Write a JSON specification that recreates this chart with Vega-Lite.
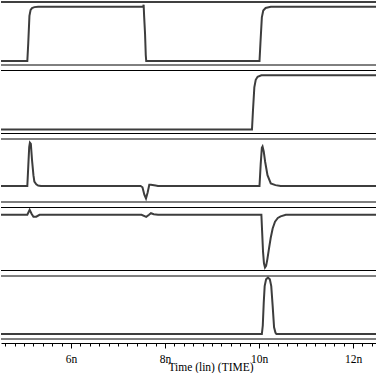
{
  "$schema": "https://vega.github.io/schema/vega-lite/v6.json",
  "padding": {"left": 0, "right": 0, "top": 1, "bottom": 0},
  "background": "white",
  "spacing": 5.5,
  "bounds": "flush",
  "config": {"view": {"stroke": null}},
  "datasets": {
    "p1": [{"t":4.5,"v":0},{"t":5.07,"v":0},{"t":5.09,"v":0.6},{"t":5.115,"v":1.5},{"t":5.14,"v":1.7},{"t":5.17,"v":1.76},{"t":5.22,"v":1.79},{"t":5.3,"v":1.8},{"t":7.535,"v":1.8},{"t":7.545,"v":1.87},{"t":7.555,"v":1.5},{"t":7.575,"v":0.9},{"t":7.59,"v":0.2},{"t":7.6,"v":0},{"t":10.01,"v":0},{"t":10.03,"v":0.6},{"t":10.06,"v":1.45},{"t":10.09,"v":1.68},{"t":10.14,"v":1.76},{"t":10.25,"v":1.8},{"t":12.55,"v":1.8}],
    "p2": [{"t":4.5,"v":0},{"t":9.85,"v":0},{"t":9.87,"v":0.6},{"t":9.9,"v":1.4},{"t":9.93,"v":1.65},{"t":9.97,"v":1.75},{"t":10.05,"v":1.8},{"t":12.55,"v":1.8}],
    "p3": [{"t":4.5,"v":0},{"t":5.07,"v":0},{"t":5.09,"v":0.45},{"t":5.11,"v":0.9},{"t":5.125,"v":1.0},{"t":5.145,"v":0.97},{"t":5.17,"v":0.6},{"t":5.2,"v":0.25},{"t":5.22,"v":0.1},{"t":5.26,"v":0.04},{"t":5.3,"v":0.01},{"t":5.36,"v":0},{"t":7.48,"v":0},{"t":7.52,"v":-0.03},{"t":7.56,"v":-0.2},{"t":7.595,"v":-0.29},{"t":7.63,"v":-0.15},{"t":7.665,"v":0.03},{"t":7.7,"v":0.03},{"t":7.8,"v":0.01},{"t":7.85,"v":0},{"t":10.01,"v":0},{"t":10.035,"v":0.5},{"t":10.06,"v":0.88},{"t":10.075,"v":0.91},{"t":10.1,"v":0.8},{"t":10.13,"v":0.56},{"t":10.18,"v":0.25},{"t":10.25,"v":0.06},{"t":10.35,"v":0.02},{"t":10.46,"v":0},{"t":12.55,"v":0}],
    "p4": [{"t":4.5,"v":0},{"t":5.07,"v":0},{"t":5.12,"v":0.095},{"t":5.16,"v":0.02},{"t":5.2,"v":-0.038},{"t":5.26,"v":-0.035},{"t":5.33,"v":0},{"t":7.5,"v":0},{"t":7.6,"v":-0.04},{"t":7.66,"v":0},{"t":7.7,"v":0.03},{"t":7.76,"v":0.01},{"t":7.85,"v":0},{"t":10.05,"v":0},{"t":10.065,"v":-0.3},{"t":10.085,"v":-0.7},{"t":10.105,"v":-0.92},{"t":10.127,"v":-1.0},{"t":10.15,"v":-0.97},{"t":10.176,"v":-0.85},{"t":10.21,"v":-0.65},{"t":10.248,"v":-0.44},{"t":10.29,"v":-0.26},{"t":10.34,"v":-0.13},{"t":10.4,"v":-0.06},{"t":10.46,"v":-0.03},{"t":10.57,"v":0},{"t":12.55,"v":0}],
    "p5": [{"t":4.5,"v":0},{"t":10.06,"v":0},{"t":10.08,"v":0.15},{"t":10.1,"v":0.55},{"t":10.12,"v":0.85},{"t":10.15,"v":0.97},{"t":10.19,"v":1.0},{"t":10.23,"v":0.97},{"t":10.26,"v":0.85},{"t":10.29,"v":0.5},{"t":10.32,"v":0.12},{"t":10.35,"v":0.02},{"t":10.37,"v":0},{"t":12.55,"v":0}],
    "one": [{}]
  },
  "vconcat": [
    {
      "width": 376, "height": 63,
      "layer": [
        {"data": {"name": "one"}, "mark": {"type": "rule", "color": "black", "strokeWidth": 1.5}, "encoding": {"y": {"datum": 1.96, "type": "quantitative", "scale": {"domain": [-0.13, 1.96], "nice": false, "zero": false}, "axis": null}}},
        {"data": {"name": "one"}, "mark": {"type": "rule", "color": "black", "strokeWidth": 1}, "encoding": {"y": {"datum": -0.13, "type": "quantitative"}}},
        {"data": {"name": "p1"}, "mark": {"type": "line", "color": "#3d3d3d", "strokeWidth": 2, "clip": true}, "encoding": {"x": {"field": "t", "type": "quantitative", "scale": {"domain": [4.51, 12.51], "nice": false, "zero": false}, "axis": null}, "y": {"field": "v", "type": "quantitative"}}}
      ]
    },
    {
      "width": 376, "height": 63,
      "layer": [
        {"data": {"name": "one"}, "mark": {"type": "rule", "color": "black", "strokeWidth": 1}, "encoding": {"y": {"datum": 1.96, "type": "quantitative", "scale": {"domain": [-0.13, 1.96], "nice": false, "zero": false}, "axis": null}}},
        {"data": {"name": "one"}, "mark": {"type": "rule", "color": "black", "strokeWidth": 1}, "encoding": {"y": {"datum": -0.13, "type": "quantitative"}}},
        {"data": {"name": "p2"}, "mark": {"type": "line", "color": "#3d3d3d", "strokeWidth": 2, "clip": true}, "encoding": {"x": {"field": "t", "type": "quantitative", "scale": {"domain": [4.51, 12.51], "nice": false, "zero": false}, "axis": null}, "y": {"field": "v", "type": "quantitative"}}}
      ]
    },
    {
      "width": 376, "height": 63,
      "layer": [
        {"data": {"name": "one"}, "mark": {"type": "rule", "color": "black", "strokeWidth": 1}, "encoding": {"y": {"datum": 1.085, "type": "quantitative", "scale": {"domain": [-0.37, 1.085], "nice": false, "zero": false}, "axis": null}}},
        {"data": {"name": "one"}, "mark": {"type": "rule", "color": "black", "strokeWidth": 1}, "encoding": {"y": {"datum": -0.37, "type": "quantitative"}}},
        {"data": {"name": "p3"}, "mark": {"type": "line", "color": "#3d3d3d", "strokeWidth": 2, "clip": true}, "encoding": {"x": {"field": "t", "type": "quantitative", "scale": {"domain": [4.51, 12.51], "nice": false, "zero": false}, "axis": null}, "y": {"field": "v", "type": "quantitative"}}}
      ]
    },
    {
      "width": 376, "height": 63,
      "layer": [
        {"data": {"name": "one"}, "mark": {"type": "rule", "color": "black", "strokeWidth": 1}, "encoding": {"y": {"datum": 0.1385, "type": "quantitative", "scale": {"domain": [-1.057, 0.1385], "nice": false, "zero": false}, "axis": null}}},
        {"data": {"name": "one"}, "mark": {"type": "rule", "color": "black", "strokeWidth": 1}, "encoding": {"y": {"datum": -1.057, "type": "quantitative"}}},
        {"data": {"name": "p4"}, "mark": {"type": "line", "color": "#3d3d3d", "strokeWidth": 2, "clip": true}, "encoding": {"x": {"field": "t", "type": "quantitative", "scale": {"domain": [4.51, 12.51], "nice": false, "zero": false}, "axis": null}, "y": {"field": "v", "type": "quantitative"}}}
      ]
    },
    {
      "width": 376, "height": 63,
      "layer": [
        {"data": {"name": "one"}, "mark": {"type": "rule", "color": "black", "strokeWidth": 1}, "encoding": {"y": {"datum": 1.03, "type": "quantitative", "scale": {"domain": [-0.089, 1.03], "nice": false, "zero": false}, "axis": null}}},
        {"data": {"name": "one"}, "mark": {"type": "rule", "color": "black", "strokeWidth": 1}, "encoding": {"y": {"datum": -0.089, "type": "quantitative"}}},
        {"data": {"name": "p5"}, "mark": {"type": "line", "color": "#3d3d3d", "strokeWidth": 2, "clip": true}, "encoding": {
          "x": {"field": "t", "type": "quantitative", "scale": {"domain": [4.51, 12.51], "nice": false, "zero": false},
            "axis": {
              "orient": "bottom", "offset": 4, "grid": false,
              "values": [4.6,4.8,5,5.2,5.4,5.6,5.8,6,6.2,6.4,6.6,6.8,7,7.2,7.4,7.6,7.8,8,8.2,8.4,8.6,8.8,9,9.2,9.4,9.6,9.8,10,10.2,10.4,10.6,10.8,11,11.2,11.4,11.6,11.8,12,12.2,12.4],
              "labelExpr": "datum.value % 2 === 0 ? datum.value + 'n' : ''",
              "tickSize": {"condition": {"test": "datum.value % 2 === 0", "value": 5}, "value": 3},
              "tickColor": "black", "domainColor": "black", "domainWidth": 1, "tickWidth": 1,
              "labelFont": "Liberation Serif", "labelFontSize": 11.5, "labelColor": "black", "labelPadding": 5, "labelOverlap": false, "labelFlush": false,
              "title": "Time (lin) (TIME)", "titleFont": "Liberation Serif", "titleFontSize": 11.5, "titleFontWeight": "normal", "titleColor": "black",
              "titleX": 209.5, "titleY": 27.5, "titleAlign": "center", "titleBaseline": "alphabetic", "titleAnchor": null
            }},
          "y": {"field": "v", "type": "quantitative"}}}
      ]
    }
  ]
}
